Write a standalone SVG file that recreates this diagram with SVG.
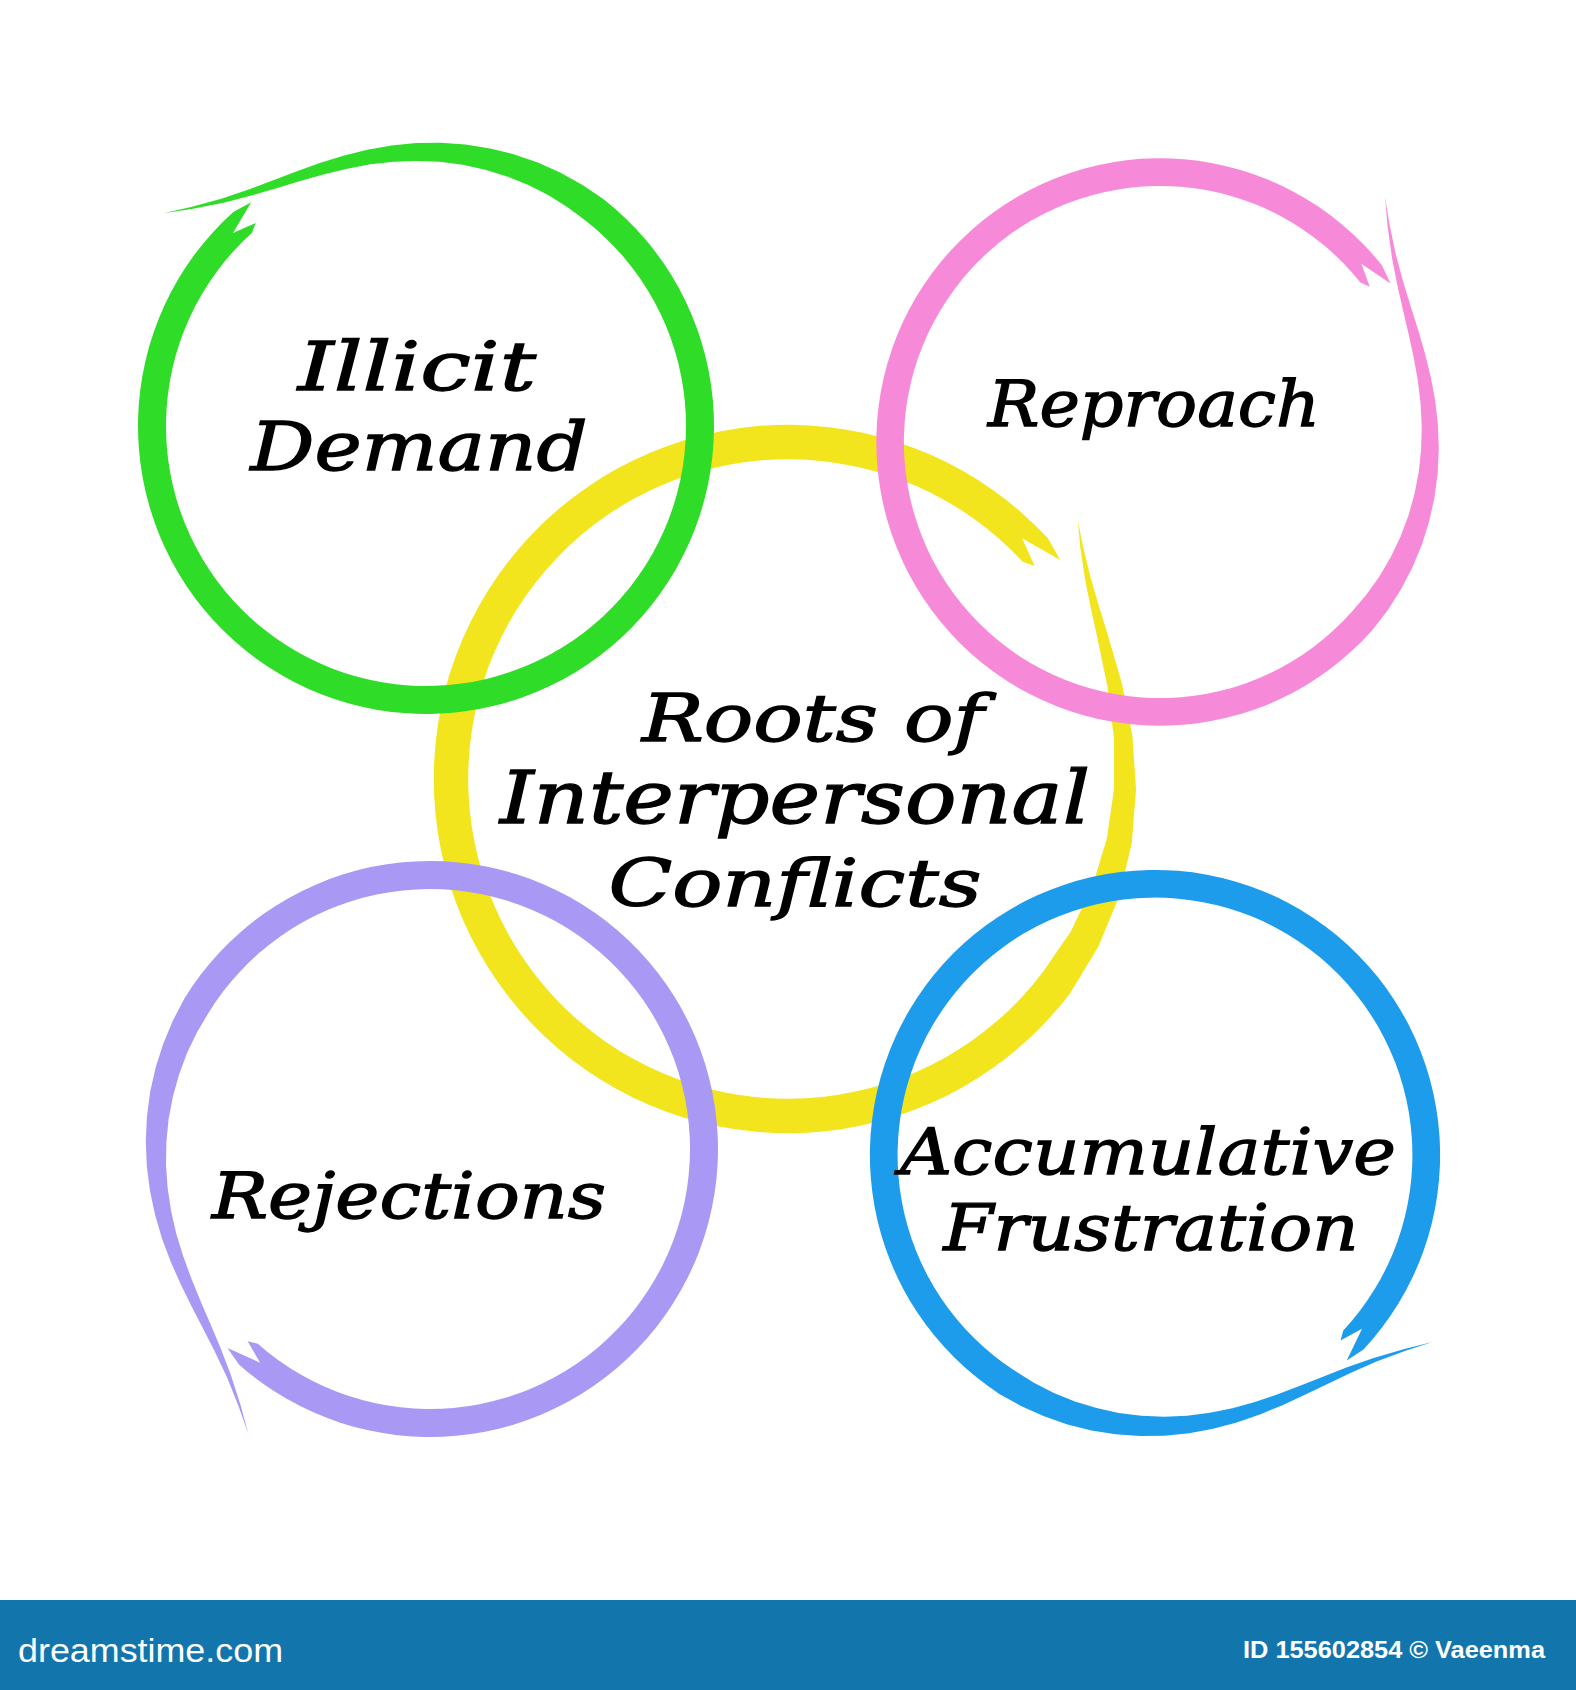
<svg xmlns="http://www.w3.org/2000/svg" xmlns:xlink="http://www.w3.org/1999/xlink" width="1576" height="1690" viewBox="0 0 1576 1690">
<style>
.lbl{font-family:"DejaVu Serif","Liberation Serif",serif;font-style:italic;fill:#000;stroke:#000;stroke-width:1.3;text-anchor:middle}
.foot{font-family:"Liberation Sans","DejaVu Sans",sans-serif;fill:#fff}
</style>
<defs>
<path id="brush" d="M283.3,19.8 L288,0 A288,288 0 1 0 50.01,283.63 L74.39,277.61 L98.09,269.50 L120.95,259.39 L142.80,247.34 L163.41,233.38 L182.75,217.79 L200.61,200.61 L216.90,182.01 L231.57,162.15 L244.65,141.25 L256.21,119.47 L266.54,97.01 L275.97,73.94 L285.10,50.27 L294.77,25.79 L305.9,0 L319.98,-28.00 L333.84,-52.87 L317.29,-27.76 L300.9,0 L287.80,25.18 L276.44,48.74 L265.82,71.23 L255.17,92.88 L243.89,113.73 L231.66,133.75 L218.06,152.69 L203.19,170.50 L187.03,187.03 L169.50,202.01 L150.91,215.52 L131.20,227.25 L110.64,237.27 L89.34,245.45 L67.45,251.72 L45.15,256.05 A260,260 0 1 1 260,0 L264.8,9.2 L272.6,-14.3 Z"/>
<path id="brushShort" d="M283.3,19.8 L288,0 A288,288 0 1 0 50.01,283.63 L92.81,271.37 L132.98,252.75 L169.63,228.15 L201.94,198.38 L229.39,164.35 L252.21,127.07 L271.90,87.67 L281.66,67.25 L292.16,46.22 L304.43,24.28 L315.95,5.51 L301.74,24.06 L287.22,45.44 L274.85,65.63 L263.52,84.97 L241.40,121.63 L217.11,155.55 L189.17,185.84 L157.34,211.62 L122.17,232.22 L84.52,247.15 L45.15,256.05 A260,260 0 1 1 260,0 L264.8,9.2 L272.6,-14.3 Z"/>
</defs>
<rect x="0" y="0" width="1576" height="1690" fill="#fff"/>

<g id="node-roots">
<use xlink:href="#brushShort" href="#brushShort" fill="#f2e51e" transform="translate(788,779) rotate(-42.8) scale(1.23)"/>
<text class="lbl" x="813" y="741" font-size="66" textLength="342" lengthAdjust="spacingAndGlyphs">Roots of</text>
<text class="lbl" x="795" y="823" font-size="72" textLength="590" lengthAdjust="spacingAndGlyphs">Interpersonal</text>
<text class="lbl" x="795" y="906" font-size="66" textLength="373" lengthAdjust="spacingAndGlyphs">Conflicts</text>
</g>

<g id="node-illicit-demand">
<use xlink:href="#brush" href="#brush" fill="#2fdc28" transform="translate(426,426) rotate(228)"/>
<text class="lbl" x="417" y="390" font-size="68" textLength="238" lengthAdjust="spacingAndGlyphs">Illicit</text>
<text class="lbl" x="419" y="470" font-size="68" textLength="337" lengthAdjust="spacingAndGlyphs">Demand</text>
</g>

<g id="node-reproach">
<use xlink:href="#brush" href="#brush" fill="#f78ad8" transform="translate(1160,442) rotate(-38.5) scale(0.985)"/>
<text class="lbl" x="1154" y="426" font-size="64" textLength="332" lengthAdjust="spacingAndGlyphs">Reproach</text>
</g>

<g id="node-rejections">
<use xlink:href="#brush" href="#brush" fill="#a998f4" transform="translate(430,1149) rotate(131.5)"/>
<text class="lbl" x="409" y="1218" font-size="64" textLength="394" lengthAdjust="spacingAndGlyphs">Rejections</text>
</g>

<g id="node-accumulative-frustration">
<use xlink:href="#brush" href="#brush" fill="#1e9cec" transform="translate(1155,1155) rotate(43) scale(0.99)"/>
<text class="lbl" x="1148" y="1174" font-size="64" textLength="496" lengthAdjust="spacingAndGlyphs">Accumulative</text>
<text class="lbl" x="1151" y="1250" font-size="64" textLength="415" lengthAdjust="spacingAndGlyphs">Frustration</text>
</g>

<g id="footer">
<rect x="0" y="1600" width="1576" height="90" fill="#1276ad"/>
<text class="foot" x="18" y="1662" font-size="34" textLength="265" lengthAdjust="spacingAndGlyphs" font-family="DejaVu Sans">dreamstime.com</text>
<text class="foot" x="1545" y="1658" font-size="24" font-weight="bold" text-anchor="end" textLength="302" lengthAdjust="spacingAndGlyphs">ID 155602854 © Vaeenma</text>
</g>
</svg>
